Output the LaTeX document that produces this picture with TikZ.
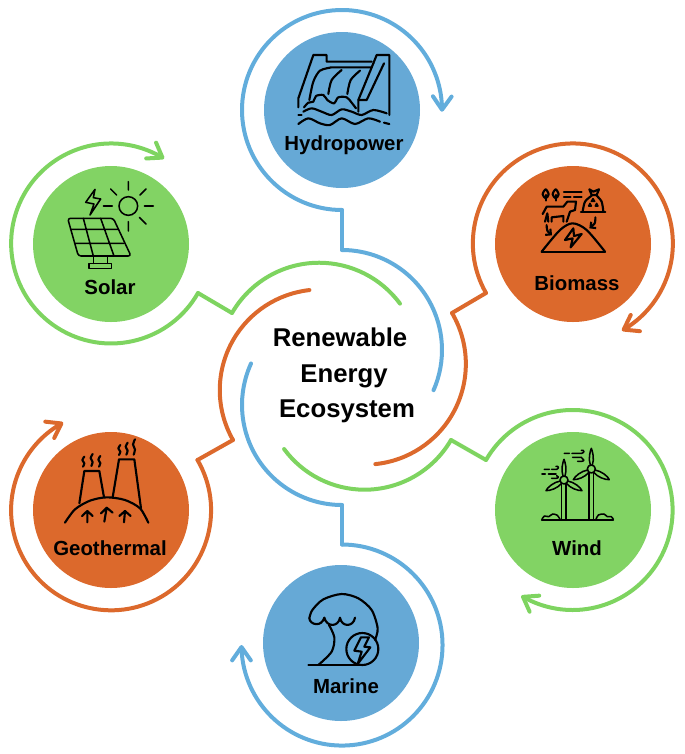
\documentclass[tikz,border=0pt]{standalone}
\usepackage{fontspec}
\setmainfont{Liberation Sans}
\usetikzlibrary{arrows.meta,bending}
\definecolor{cblue}{HTML}{66A9D6}
\definecolor{lblue}{HTML}{62ADDC}
\definecolor{cgreen}{HTML}{82D364}
\definecolor{lgreen}{HTML}{7ED460}
\definecolor{corange}{HTML}{DC692C}
\tikzset{
  disc/.style={circle,minimum size=117pt,inner sep=0pt,draw=none,fill=#1},
  ring/.style={draw=#1,line width=3pt,line cap=round,line join=miter},
  ringarrow/.style={ring=#1,-{Straight Barb[round,flex,length=10pt,width=14pt,line width=3pt]}},
  lab/.style={font=\bfseries\fontsize{15.3pt}{16pt}\selectfont,text=black,inner sep=0pt},
  ctr/.style={font=\bfseries\fontsize{19.3pt}{22pt}\selectfont,text=black,inner sep=0pt,anchor=base},
  icon/.style={draw=black,line width=1.6pt,line cap=round,line join=round},
  thin icon/.style={draw=black,line width=1.15pt,line cap=round,line join=round},
  zoomed/.style={shift={#1},x=0.25pt,y=0.25pt},
}
\begin{document}
\begin{tikzpicture}[x=0.75pt,y=0.75pt,yscale=-1]
\useasboundingbox (0,0) rectangle (685,754);
% discs
\node[disc=cblue] (hydro) at (342,110) {};
\node[disc=cgreen] (solar) at (111,244) {};
\node[disc=corange] (biomass) at (573,244) {};
\node[disc=corange] (geo) at (111,510) {};
\node[disc=cgreen] (wind) at (573,510) {};
\node[disc=cblue] (marine) at (341,643) {};
% junction coordinates
\coordinate (hA) at (342,210); \coordinate (hB) at (342,250);
\coordinate (mA) at (342,505); \coordinate (mB) at (342,544.5);
\coordinate (sA) at (198,293); \coordinate (sB) at (232,313);
\coordinate (wA) at (451,440); \coordinate (wB) at (486,460);
\coordinate (bA) at (486,293); \coordinate (bB) at (452,313);
\coordinate (gA) at (197.5,460); \coordinate (gB) at (233,440);
% blue
\draw[ringarrow=lblue] (hA) arc[start angle=90,end angle=361,radius=75pt];
\draw[ring=lblue] (hA) -- (hB);
\draw[ring=lblue] (hB) arc[start angle=270,end angle=383.7,radius=75pt];
\draw[ring=lblue] (mA) arc[start angle=90,end angle=204.5,radius=75pt];
\draw[ring=lblue] (mA) -- (mB);
\draw[ringarrow=lblue] (mB) arc[start angle=270,end angle=540,radius=75.4pt];
% green
\draw[ringarrow=lgreen] (sA) arc[start angle=29.7,end angle=302,radius=75pt];
\draw[ring=lgreen] (sA) -- (sB);
\draw[ring=lgreen] (sB) arc[start angle=210,end angle=323.6,radius=75.4pt];
\draw[ring=lgreen] (wA) arc[start angle=30.2,end angle=143.6,radius=75pt];
\draw[ring=lgreen] (wA) -- (wB);
\draw[ringarrow=lgreen] (wB) arc[start angle=210,end angle=480.9,radius=75pt];
% orange
\draw[ringarrow=corange] (bA) arc[start angle=150.3,end angle=420.6,radius=75pt];
\draw[ring=corange] (bA) -- (bB);
\draw[ring=corange] (bB) arc[start angle=-30.4,end angle=84.2,radius=75.5pt];
\draw[ring=corange] (gB) arc[start angle=150.3,end angle=263.7,radius=75.5pt];
\draw[ring=corange] (gA) -- (gB);
\draw[ringarrow=corange] (gA) arc[start angle=-30.2,end angle=241.4,radius=75pt];
% labels
\node[lab] (hl) at (344,145) {Hydropower};
\node[lab] (sl) at (110,287) {Solar};
\node[lab] (bl) at (577,283) {Biomass};
\node[lab] (gl) at (110,548) {Geothermal};
\node[lab] (wl) at (577,548) {Wind};
\node[lab] (ml) at (346,686) {Marine};
\node[ctr] (c1) at (340,346) {Renewable};
\node[ctr] (c2) at (344,382) {Energy};
\node[ctr] (c3) at (347,417) {Ecosystem};
% hydropower icon
\begin{scope}[zoomed={(230,0)}]
\draw[icon] (205,322)--(205,295)--(250,165)--(290,165)--(290,185)--(425,185);
\draw[icon] (430,190)--(440,165)--(478,165)--(478,345);
\draw[icon] (430,190)--(385,300)--(385,335);
\draw[icon] (385,300)--(410,300)--(462,190);
\draw[icon] (425,202)--(305,202) plot[smooth] coordinates {(305,202)(270,212)(250,245)(238,300)};
\draw[icon] plot[smooth] coordinates {(295,282)(305,240)(335,210)};
\draw[icon] plot[smooth] coordinates {(352,282)(362,240)(390,212)};
\draw[icon] plot[smooth] coordinates {(222,322)(235,308)(250,305)(258,288)(280,285)(292,300)(312,310)(325,292)(350,292)(365,308)(378,325)};
\draw[icon] plot[smooth] coordinates {(220,335)(245,325)(275,335)(305,345)(335,328)(365,335)(395,345)(430,330)(470,340)};
\draw[icon] (205,344)--(215,344);
\draw[icon] plot[smooth] coordinates {(205,372)(235,355)(270,370)(300,375)(335,355)(375,372)(415,355)(450,365)};
\draw[icon] (462,368)--(478,372);
\end{scope}
% solar icon
\begin{scope}[zoomed={(0,130)}]
\draw[thin icon] (285,178)--(257,217)--(282,222)--(270,255)--(302,207)--(280,203)--cycle;
\draw[thin icon] (385,228) circle[radius=7pt];
\draw[thin icon] (385,155)--(385,180) (332,177)--(350,195) (438,177)--(420,195) (310,228)--(337,228) (433,228)--(460,228) (418,262)--(438,282) (385,275)--(385,303);
\draw[thin icon,rounded corners=2pt] (203,265)--(340,265)--(393,378)--(235,378)--cycle;
\draw[thin icon] (212,298)--(355,298) (225,340)--(372,340) (250,265)--(280,378) (302,265)--(342,378);
\draw[thin icon] (280,380)--(280,400) (322,380)--(322,400);
\draw[thin icon] (267,400) rectangle (335,415);
\end{scope}
% biomass icon
\begin{scope}[zoomed={(450,130)}]
\foreach \dx in {287,317}{
  \draw[icon] plot[smooth cycle] coordinates {(\dx,178)(\dx+9,193)(\dx,205)(\dx-9,193)};
  \draw[icon] (\dx,195)--(\dx,212);
}
\draw[icon] (342,185)--(395,185) (342,200)--(362,200) (372,200)--(395,200);
\draw[icon] (418,178)--(430,185)--(447,178)--(440,195)--(425,195)--cycle;
\draw[icon] plot[smooth] coordinates {(425,197)(405,215)(398,245)};
\draw[icon] plot[smooth] coordinates {(440,197)(455,215)(460,245)};
\draw[icon] (393,247)--(466,247);
\draw[thin icon,fill=black] (429,206)--(434,214)--(424,214)--cycle (416,228)--(424,228)--(420,220)--cycle (436,228)--(444,228)--(440,220)--cycle;
\draw[icon] (278,252)--(290,230)--(340,230)--(352,215)--(378,215)--(375,240)--(360,245)--(350,275) (340,275)--(340,258)--(305,262)--(305,275) (295,275)--(292,250)--(285,275);
\draw[icon,-{Straight Barb[length=3pt,width=6pt]}] plot[smooth] coordinates {(290,285)(292,302)(306,316)};
\draw[icon,-{Straight Barb[length=3pt,width=6pt]}] plot[smooth] coordinates {(436,262)(434,280)(418,295)};
\draw[icon] (275,365)--(465,365);
\draw[icon] plot[smooth] coordinates {(275,365)(330,300)(368,280)(410,300)(465,365)};
\draw[icon] (370,295)--(345,330)--(368,325)--(362,352)--(395,312)--(372,318)--cycle;
\end{scope}
% geothermal icon
\begin{scope}[zoomed={(0,410)}]
\draw[icon] plot[smooth] coordinates {(195,338)(225,298)(270,272)(320,262)(375,270)(420,295)(445,338)};
\draw[icon] (238,280)--(253,183)--(298,183)--(312,262);
\draw[icon] (338,262)--(357,148)--(403,148)--(423,295);
\foreach \sx/\sy/\sh in {250/140/30,275/132/36,298/138/32,358/105/30,380/98/36,402/88/46}{
  \draw[icon] plot[smooth] coordinates {(\sx+3,\sy)(\sx-3,\sy+\sh/3)(\sx+3,\sy+2*\sh/3)(\sx-1,\sy+\sh)};
}
\draw[icon] (262,337)--(262,303) (246,318)--(262,303)--(278,318);
\draw[icon] (313,335)--(320,293) (303,310)--(320,293)--(338,308);
\draw[icon] (372,337)--(375,303) (358,318)--(375,303)--(392,318);
\end{scope}
% wind icon
\begin{scope}[zoomed={(450,400)}]
\draw[thin icon] (275,360)--(490,360);
\draw[thin icon] (335,252)--(335,360) (348,252)--(348,360) (417,220)--(417,360) (430,220)--(430,360);
\draw[thin icon] (342,240) circle[radius=3pt];
\draw[thin icon] (424,207) circle[radius=3pt];
\foreach \hx/\hy/\tp in {342/240/178,424/207/145}{
  \draw[thin icon] (\hx-3,\hy-12) .. controls (\hx-10,\hy-30) and (\hx-3,\tp+6) .. (\hx,\tp) .. controls (\hx+3,\tp+6) and (\hx+10,\hy-30) .. (\hx+3,\hy-12);
  \draw[thin icon] (\hx-11,\hy+3) .. controls (\hx-30,\hy+6) and (\hx-50,\hy+22) .. (\hx-54,\hy+32) .. controls (\hx-40,\hy+32) and (\hx-20,\hy+25) .. (\hx-7,\hy+10);
  \draw[thin icon] (\hx+11,\hy+3) .. controls (\hx+30,\hy+6) and (\hx+50,\hy+22) .. (\hx+54,\hy+32) .. controls (\hx+40,\hy+32) and (\hx+20,\hy+25) .. (\hx+7,\hy+10);
}
\draw[thin icon] plot[smooth] coordinates {(276,358)(283,348)(296,350)(308,342)(322,346)(330,358)};
\draw[thin icon] plot[smooth] coordinates {(438,358)(445,345)(462,342)(472,350)(484,350)(490,358)};
\draw[thin icon] (283,208)--(298,208) (305,208)--(320,208)..controls (328,205) and (326,197) .. (318,199);
\draw[thin icon] (276,222)--(286,222) (295,222)--(318,222) (305,235)--(318,235)..controls (328,235) and (326,227) .. (320,227);
\draw[thin icon] (343,160)--(358,160) (366,160)--(395,160)..controls (405,158) and (403,149) .. (394,151);
\draw[thin icon] (368,172)--(395,172) (383,184)--(395,184)..controls (404,184) and (403,176) .. (396,175);
\end{scope}
% marine icon
\begin{scope}[zoomed={(225,550)}]
\draw[icon] (250,345)--(412,345);
\draw[icon] (412,297) circle[radius=12pt];
\draw[icon] plot[smooth] coordinates {(450,270)(458,235)(440,180)(400,145)(350,132)(295,148)(262,180)(253,205)};
\draw[icon] (253,205) .. controls (255,225) and (290,232) .. (298,203) .. controls (305,232) and (340,232) .. (345,203) .. controls (350,232) and (385,232) .. (390,203);
\draw[icon] plot[smooth] coordinates {(312,225)(328,262)(320,305)(280,345)};
\draw[icon] (408,262)--(432,262)--(418,290)--(436,292)--(398,342)--(410,305)--(388,302)--cycle;
\end{scope}
\end{tikzpicture}
\end{document}
